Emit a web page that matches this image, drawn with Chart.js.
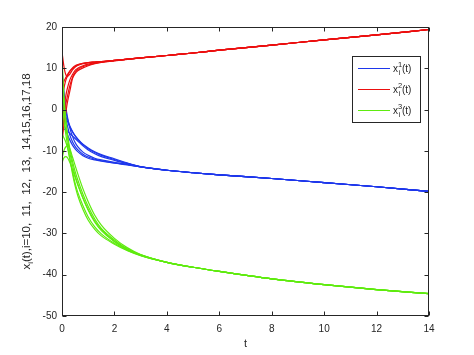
<!DOCTYPE html>
<html>
<head>
<meta charset="utf-8">
<script src="https://cdn.jsdelivr.net/npm/chart.js@4.4.1/dist/chart.umd.min.js"></script>
<style>
  html, body { margin: 0; padding: 0; background: #ffffff; }
  canvas { display: block; }
</style>
</head>
<body>
<canvas id="c" width="474" height="355"></canvas>
<script>
// time samples
const tValues = [0, 0.05, 0.1, 0.15, 0.2, 0.3, 0.4, 0.5, 0.6, 0.8, 1, 1.25, 1.5, 2, 2.5, 3, 4, 5, 6, 8, 10, 12, 14];

// x_i^1(t) (blue)
const blueCurves = [
  [10, 6, 3, 0.5, -1.5, -4.5, -6.5, -8, -9, -10.3, -11.1, -11.8, -12.2, -12.8, -13.3, -13.9, -14.7, -15.3, -15.8, -16.7, -17.7, -18.7, -19.8],
  [4, 1.5, -0.5, -2.3, -3.8, -6.2, -7.8, -8.9, -9.7, -10.8, -11.5, -12.0, -12.4, -12.9, -13.35, -13.9, -14.7, -15.3, -15.8, -16.7, -17.7, -18.7, -19.8],
  [-2, -3, -4, -5, -5.9, -7.4, -8.6, -9.5, -10.2, -11.2, -11.8, -12.2, -12.5, -13.0, -13.4, -13.9, -14.7, -15.3, -15.8, -16.7, -17.7, -18.7, -19.8],
  [8, 4, 1.5, -0.5, -2.0, -4.0, -5.3, -6.3, -7.1, -8.4, -9.3, -10.2, -10.9, -11.9, -12.95, -13.8, -14.7, -15.3, -15.8, -16.7, -17.7, -18.7, -19.8],
  [2, 0.5, -0.8, -1.8, -2.7, -4.2, -5.4, -6.4, -7.2, -8.5, -9.5, -10.4, -11.1, -12.1, -13.05, -13.85, -14.7, -15.3, -15.8, -16.7, -17.7, -18.7, -19.8],
  [-5, -4.8, -4.8, -5, -5.2, -5.8, -6.4, -7.0, -7.6, -8.8, -9.8, -10.7, -11.4, -12.3, -13.1, -13.85, -14.7, -15.3, -15.8, -16.7, -17.7, -18.7, -19.8]
];

// x_i^2(t) (red)
const redCurves = [
  [14, 11.5, 9.5, 8.4, 8.0, 8.6, 9.6, 10.3, 10.8, 11.2, 11.4, 11.5, 11.6, 11.9, 12.2, 12.5, 13.1, 13.7, 14.4, 15.6, 16.9, 18.1, 19.4],
  [3, 4.5, 6, 7.2, 8.0, 9.3, 10.1, 10.6, 10.9, 11.2, 11.4, 11.5, 11.6, 11.9, 12.2, 12.5, 13.1, 13.7, 14.4, 15.6, 16.9, 18.1, 19.4],
  [-4, -1, 1.5, 3.5, 5.0, 7.2, 8.5, 9.5, 10.0, 10.6, 11.0, 11.35, 11.55, 11.9, 12.2, 12.5, 13.1, 13.7, 14.4, 15.6, 16.9, 18.1, 19.4],
  [-8, -5, -2.5, -0.5, 1.5, 4.5, 7.5, 8.7, 9.4, 10.1, 10.6, 11.1, 11.4, 11.8, 12.15, 12.5, 13.1, 13.7, 14.4, 15.6, 16.9, 18.1, 19.4],
  [6, 6.5, 7.2, 7.8, 8.4, 9.3, 9.9, 10.4, 10.7, 11.1, 11.3, 11.5, 11.6, 11.9, 12.2, 12.5, 13.1, 13.7, 14.4, 15.6, 16.9, 18.1, 19.4],
  [-6, -3, -0.5, 1.5, 3.0, 5.8, 7.8, 9.0, 9.7, 10.4, 10.8, 11.2, 11.5, 11.85, 12.2, 12.5, 13.1, 13.7, 14.4, 15.6, 16.9, 18.1, 19.4]
];

// x_i^3(t) (green)
const greenCurves = [
  [13, 6, 1, -2.5, -5.5, -9.5, -12.5, -15, -17, -20.5, -23.5, -26.5, -28.8, -31.6, -33.8, -35.2, -37.0, -38.2, -39.2, -41.0, -42.4, -43.6, -44.6],
  [-12, -10.5, -9.5, -9, -8.8, -9.5, -11.5, -13.5, -15.5, -19.2, -22.3, -25.6, -28.0, -31.2, -33.5, -35.1, -37.0, -38.2, -39.2, -41.0, -42.4, -43.6, -44.6],
  [8, 3, -1, -4, -6.5, -10.5, -13.5, -16, -18, -21.5, -24.4, -27.3, -29.3, -32.0, -33.9, -35.3, -37.0, -38.2, -39.2, -41.0, -42.4, -43.6, -44.6],
  [-13, -12, -11.5, -11.4, -11.6, -12.8, -14.5, -16.4, -18.2, -21.4, -24.2, -27.0, -29.0, -31.9, -33.9, -35.2, -37.0, -38.2, -39.2, -41.0, -42.4, -43.6, -44.6],
  [3, -1, -4, -6.2, -8.2, -12, -15.5, -18.5, -20.8, -24.2, -26.8, -29.0, -30.6, -32.6, -34.2, -35.4, -37.0, -38.2, -39.2, -41.0, -42.4, -43.6, -44.6],
  [-6, -6.5, -7.2, -8, -9, -12, -15, -17.8, -20, -23.3, -26, -28.4, -30.1, -32.4, -34.1, -35.3, -37.0, -38.2, -39.2, -41.0, -42.4, -43.6, -44.6]
];

const xTickValues = [0, 2, 4, 6, 8, 10, 12, 14];
const yTickValues = [-50, -40, -30, -20, -10, 0, 10, 20];
const legendLabels = ['1', '2', '3'];
const yTitleMain = 'x';
const yTitleSub = 'i';
const yTitleRest = '(t),i=10,  11,  12,  13,  14,15,16,17,18';

const BLUE = 'rgb(30,55,235)';
const RED = 'rgb(235,15,15)';
const GREEN = 'rgb(95,235,15)';
const AXIS = '#262626';
const FONT = '"Liberation Sans", Arial, Helvetica, "DejaVu Sans", sans-serif';

function toPoints(arr) { return arr.map((v, k) => ({ x: tValues[k], y: v })); }

const datasets = [];
function addGroup(curves, color, order, name) {
  curves.forEach((c, k) => {
    datasets.push({
      label: name + (k === 0 ? '' : '_' + k),
      data: toPoints(c),
      borderColor: color,
      backgroundColor: color,
      borderWidth: 1.2,
      pointRadius: 0,
      fill: false,
      cubicInterpolationMode: 'monotone',
      order: order,
      groupColor: color,
      legendIndex: k === 0 ? name : null
    });
  });
}
addGroup(blueCurves, BLUE, 3, 'x1');
addGroup(redCurves, RED, 2, 'x2');
addGroup(greenCurves, GREEN, 1, 'x3');

const framePlugin = {
  id: 'matlabFrame',
  afterDraw(chart) {
    const ctx = chart.ctx;
    const a = chart.chartArea;
    const xs = chart.scales.x, ys = chart.scales.y;
    ctx.save();
    ctx.strokeStyle = AXIS;
    ctx.lineWidth = 1;
    const L = Math.round(a.left) + 0.5, R = Math.round(a.right) - 0.5;
    const T = Math.round(a.top) + 0.5, B = Math.round(a.bottom) - 0.5;
    ctx.strokeRect(L, T, R - L, B - T);
    const tl = 4;
    ctx.beginPath();
    xs.ticks.forEach(t => {
      const px = Math.round(xs.getPixelForValue(t.value)) + 0.5;
      ctx.moveTo(px, B); ctx.lineTo(px, B - tl);
      ctx.moveTo(px, T); ctx.lineTo(px, T + tl);
    });
    ys.ticks.forEach(t => {
      const py = Math.round(ys.getPixelForValue(t.value)) + 0.5;
      ctx.moveTo(L, py); ctx.lineTo(L + tl, py);
      ctx.moveTo(R, py); ctx.lineTo(R - tl, py);
    });
    ctx.stroke();

    // y-axis title with real subscript
    const mainFont = '11.5px ' + FONT, subFont = '8px ' + FONT;
    ctx.font = mainFont; const w1 = ctx.measureText(yTitleMain).width;
    const w3 = ctx.measureText(yTitleRest).width;
    ctx.font = subFont; const w2 = ctx.measureText(yTitleSub).width;
    const total = w1 + w2 + w3;
    ctx.save();
    ctx.translate(29.5, (a.top + a.bottom) / 2);
    ctx.rotate(-Math.PI / 2);
    ctx.fillStyle = AXIS;
    ctx.textAlign = 'left';
    ctx.textBaseline = 'alphabetic';
    let px = -total / 2;
    ctx.font = mainFont; ctx.fillText(yTitleMain, px, 0); px += w1;
    ctx.font = subFont; ctx.fillText(yTitleSub, px, 3); px += w2;
    ctx.font = mainFont; ctx.fillText(yTitleRest, px, 0);
    ctx.restore();

    // legend box (MATLAB style)
    const bx = 352.5, by = 56.5, bw = 68, bh = 66;
    ctx.fillStyle = '#ffffff';
    ctx.fillRect(bx, by, bw, bh);
    ctx.strokeStyle = AXIS;
    ctx.lineWidth = 1;
    ctx.strokeRect(bx, by, bw, bh);
    const entries = chart.data.datasets.filter(d => d.legendIndex);
    entries.forEach((d, k) => {
      const cy = 68.5 + k * 21;
      ctx.strokeStyle = d.groupColor;
      ctx.lineWidth = 1;
      ctx.beginPath();
      ctx.moveTo(358, cy); ctx.lineTo(390, cy);
      ctx.stroke();
      ctx.fillStyle = AXIS;
      ctx.textBaseline = 'alphabetic';
      ctx.textAlign = 'left';
      ctx.font = '10px ' + FONT;
      ctx.fillText('x', 393, cy + 3.5);
      ctx.font = '7.5px ' + FONT;
      ctx.fillText(legendLabels[k], 398, cy - 1.5);
      ctx.fillText('i', 398.5, cy + 6.5);
      ctx.font = '10px ' + FONT;
      ctx.fillText('(t)', 402, cy + 3.5);
    });
    ctx.restore();
  }
};

new Chart(document.getElementById('c'), {
  type: 'line',
  data: { datasets },
  options: {
    responsive: false,
    animation: false,
    layout: { padding: { left: 0, right: 45, top: 27, bottom: 0 } },
    plugins: { legend: { display: false }, tooltip: { enabled: false } },
    scales: {
      x: {
        type: 'linear', min: 0, max: 14,
        afterBuildTicks: s => { s.ticks = xTickValues.map(v => ({ value: v })); },
        ticks: { color: AXIS, font: { size: 10, family: FONT }, padding: 7, maxRotation: 0 },
        grid: { display: false, drawTicks: false },
        border: { display: false },
        title: { display: true, text: 't', color: AXIS, font: { size: 11, family: FONT }, padding: { top: 0, bottom: 4 } },
        afterFit: s => { s.height = 39; }
      },
      y: {
        type: 'linear', min: -50, max: 20,
        afterBuildTicks: s => { s.ticks = yTickValues.map(v => ({ value: v })); },
        ticks: { color: AXIS, font: { size: 10, family: FONT }, padding: 5 },
        grid: { display: false, drawTicks: false },
        border: { display: false },
        title: { display: false },
        afterFit: s => { s.width = 62; }
      }
    }
  },
  plugins: [framePlugin]
});
</script>
</body>
</html>
